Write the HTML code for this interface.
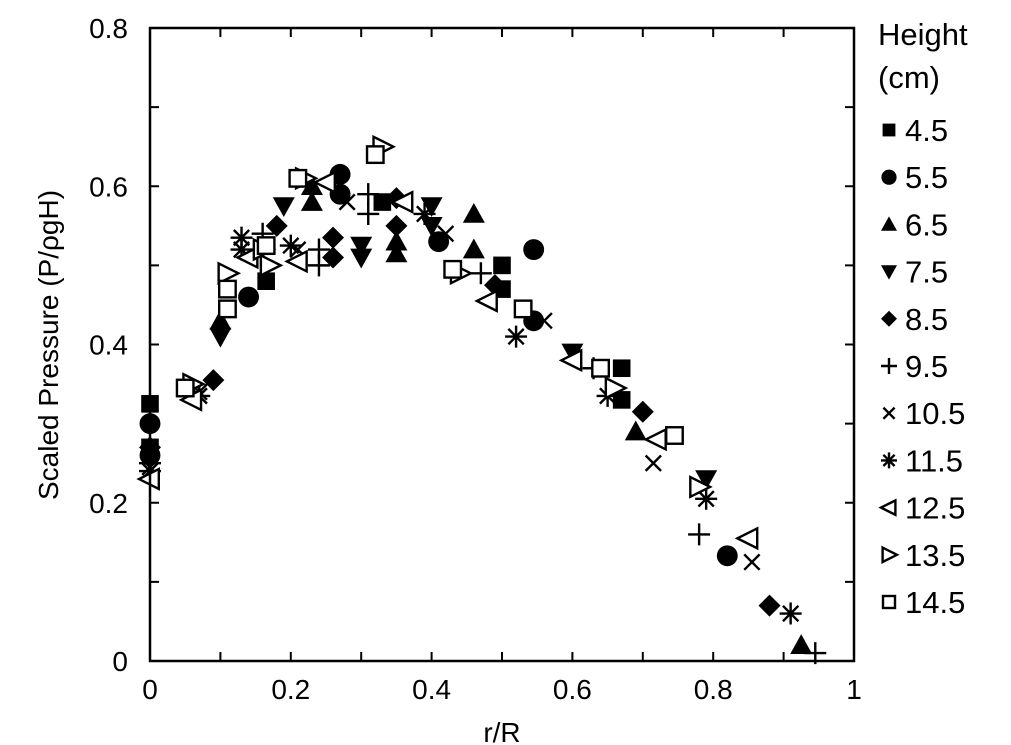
<!DOCTYPE html>
<html><head><meta charset="utf-8"><style>
body{margin:0;background:#fff}
svg{display:block;font-family:"Liberation Sans",sans-serif}
</style></head><body>
<svg id="chart" width="1011" height="745" viewBox="0 0 1011 745">
<g id="marks"></g>
<g id="axes"></g>
<g id="legend"></g>
</svg>
<script>
const heights=["4.5","5.5","6.5","7.5","8.5","9.5","10.5","11.5","12.5","13.5","14.5"];
const shapes=["sq","ci","tu","td","di","pl","x","as","tl","tr","osq"];
const s45=[[0,0.325],[0,0.27],[0.165,0.48],[0.33,0.58],[0.5,0.50],[0.5,0.47],[0.67,0.37],[0.67,0.33]];
const s55=[[0,0.30],[0,0.26],[0.14,0.46],[0.27,0.615],[0.27,0.59],[0.41,0.53],[0.545,0.52],[0.545,0.43],[0.82,0.133]];
const s65=[[0.1,0.43],[0.23,0.58],[0.23,0.60],[0.35,0.53],[0.35,0.515],[0.46,0.565],[0.46,0.52],[0.69,0.29],[0.925,0.02]];
const s75=[[0.1,0.41],[0.19,0.575],[0.3,0.525],[0.3,0.51],[0.4,0.575],[0.4,0.55],[0.6,0.39],[0.79,0.23]];
const s85=[[0,0.27],[0.09,0.355],[0.18,0.55],[0.26,0.535],[0.26,0.51],[0.35,0.585],[0.35,0.55],[0.49,0.475],[0.7,0.315],[0.88,0.07]];
const s95=[[0,0.25],[0.16,0.54],[0.24,0.52],[0.24,0.50],[0.31,0.59],[0.31,0.565],[0.47,0.49],[0.63,0.37],[0.78,0.16],[0.945,0.01]];
const s105=[[0,0.245],[0.07,0.34],[0.21,0.52],[0.28,0.58],[0.42,0.54],[0.56,0.43],[0.715,0.25],[0.855,0.125]];
const s115=[[0,0.24],[0.07,0.335],[0.13,0.535],[0.13,0.52],[0.2,0.525],[0.39,0.565],[0.52,0.41],[0.65,0.335],[0.79,0.205],[0.91,0.06]];
const s125=[[0,0.23],[0.06,0.33],[0.14,0.51],[0.21,0.505],[0.25,0.605],[0.36,0.58],[0.48,0.455],[0.6,0.38],[0.72,0.28],[0.85,0.155]];
const s135=[[0.06,0.35],[0.11,0.49],[0.16,0.52],[0.17,0.5],[0.22,0.61],[0.33,0.65],[0.44,0.49],[0.66,0.345],[0.78,0.22]];
const s145=[[0.05,0.345],[0.11,0.47],[0.11,0.445],[0.165,0.525],[0.21,0.61],[0.32,0.64],[0.43,0.495],[0.53,0.445],[0.64,0.37],[0.745,0.285]];
const series=[s45,s55,s65,s75,s85,s95,s105,s115,s125,s135,s145];
const xTicks=[0,0.2,0.4,0.6,0.8,1];
const xTickLabels=["0","0.2","0.4","0.6","0.8","1"];
const yTicks=[0,0.2,0.4,0.6,0.8];
const yTickLabels=["0","0.2","0.4","0.6","0.8"];

const L=150,R=854,T=28,B=661;
const X=v=>L+v*(R-L), Y=v=>B-v/0.8*(B-T);
const NS="http://www.w3.org/2000/svg";
function mk(tag,attrs,parent){const e=document.createElementNS(NS,tag);for(const k in attrs)e.setAttribute(k,attrs[k]);parent.appendChild(e);return e;}
function marker(shape,cx,cy,s,parent){
  const g=mk("g",{},parent);
  const f={fill:"#000"}, o={fill:"#fff","stroke":"#000","stroke-width":2.4}, ln={stroke:"#000","stroke-width":2.4,fill:"none"};
  if(shape==="sq")mk("rect",Object.assign({x:cx-s*0.8,y:cy-s*0.8,width:s*1.6,height:s*1.6},f),g);
  else if(shape==="osq")mk("rect",Object.assign({x:cx-s*0.75,y:cy-s*0.75,width:s*1.5,height:s*1.5},o),g);
  else if(shape==="ci")mk("circle",Object.assign({cx:cx,cy:cy,r:s*0.95},f),g);
  else if(shape==="tu")mk("polygon",Object.assign({points:`${cx},${cy-s} ${cx-s},${cy+s*0.8} ${cx+s},${cy+s*0.8}`},f),g);
  else if(shape==="td")mk("polygon",Object.assign({points:`${cx},${cy+s} ${cx-s},${cy-s*0.8} ${cx+s},${cy-s*0.8}`},f),g);
  else if(shape==="di")mk("polygon",Object.assign({points:`${cx},${cy-s} ${cx+s},${cy} ${cx},${cy+s} ${cx-s},${cy}`},f),g);
  else if(shape==="tl")mk("polygon",Object.assign({points:`${cx-s},${cy} ${cx+s*0.8},${cy-s*0.9} ${cx+s*0.8},${cy+s*0.9}`},o),g);
  else if(shape==="tr")mk("polygon",Object.assign({points:`${cx+s},${cy} ${cx-s*0.8},${cy-s*0.9} ${cx-s*0.8},${cy+s*0.9}`},o),g);
  else if(shape==="pl"){mk("path",Object.assign({d:`M${cx-s},${cy}H${cx+s}M${cx},${cy-s}V${cy+s}`},ln),g);}
  else if(shape==="x"){const d=s*0.7;mk("path",Object.assign({d:`M${cx-d},${cy-d}L${cx+d},${cy+d}M${cx-d},${cy+d}L${cx+d},${cy-d}`},ln),g);}
  else if(shape==="as"){const d=s*0.7;mk("path",Object.assign({d:`M${cx-s},${cy}H${cx+s}M${cx},${cy-s}V${cy+s}M${cx-d},${cy-d}L${cx+d},${cy+d}M${cx-d},${cy+d}L${cx+d},${cy-d}`},ln),g);}
  return g;
}
const marks=document.getElementById("marks");
series.forEach((arr,i)=>{
  arr.forEach(p=>{
    const g=marker(shapes[i],X(p[0]),Y(p[1]),11,marks);
    
    
  });
});
const axes=document.getElementById("axes");
const frame=mk("rect",{x:L,y:T,width:R-L,height:B-T,fill:"none",stroke:"#000","stroke-width":2.5},axes);


for(let k=0;k<=10;k++){
  const v=k/10;
  mk("path",{d:`M${X(v)},${B}v-9M${X(v)},${T}v9`,stroke:"#000","stroke-width":2},axes);
}
for(let k=0;k<=8;k++){
  const v=k/10;
  mk("path",{d:`M${L},${Y(v)}h9M${R},${Y(v)}h-9`,stroke:"#000","stroke-width":2},axes);
}
xTicks.forEach((v,i)=>{
  const t=mk("text",{x:X(v),y:699,"font-size":28,"text-anchor":"middle"},axes);
  t.textContent=xTickLabels[i];
  
  
});
yTicks.forEach((v,i)=>{
  const t=mk("text",{x:128,y:Y(v)+10,"font-size":28,"text-anchor":"end"},axes);
  t.textContent=yTickLabels[i];
  
  
});
const xt=mk("text",{x:502,y:742,"font-size":28,"text-anchor":"middle"},axes);
xt.textContent="r/R";


const yt=mk("text",{x:0,y:0,"font-size":28,"text-anchor":"middle",transform:"translate(58,345) rotate(-90)"},axes);
yt.textContent="Scaled Pressure  (P/\u03C1gH)";


const leg=document.getElementById("legend");
const h1=mk("text",{x:878,y:45,"font-size":31},leg);h1.textContent="Height";


const h2=mk("text",{x:878,y:88,"font-size":31},leg);h2.textContent="(cm)";


heights.forEach((h,i)=>{
  const cy=130+i*47.2;
  const g=mk("g",{},leg);
  
  
  marker(shapes[i],889,cy,8,g);
  const t=mk("text",{x:905,y:cy+11,"font-size":31},g);t.textContent=h;
});
</script>
</body></html>
